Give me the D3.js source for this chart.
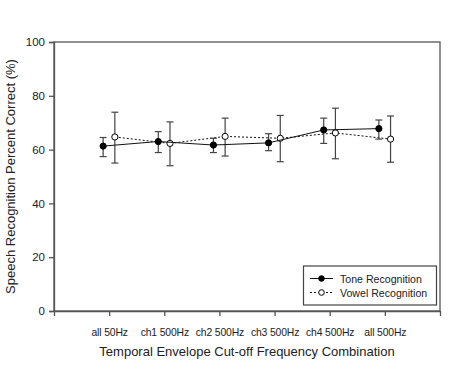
<!DOCTYPE html>
<html><head><meta charset="utf-8">
<script src="https://cdn.jsdelivr.net/npm/d3@7"></script>
<style>body{margin:0;background:#fff}svg{display:block}text{font-family:"Liberation Sans",Arial,sans-serif;fill:#222}</style>
</head><body><svg id="c" width="474" height="376"></svg>
<script>
const categories = ["all 50Hz","ch1 500Hz","ch2 500Hz","ch3 500Hz","ch4 500Hz","all 500Hz"];
const toneMean = [61.3, 63.0, 61.7, 62.5, 67.3, 67.8];
const toneHi   = [64.5, 66.7, 64.2, 65.9, 71.7, 71.0];
const toneLo   = [57.4, 58.9, 58.9, 59.6, 62.3, 63.9];
const vowelMean = [64.7, 62.3, 64.9, 64.2, 66.2, 63.9];
const vowelHi   = [73.9, 70.3, 71.7, 72.7, 75.4, 72.5];
const vowelLo   = [55.0, 54.0, 57.6, 55.5, 56.6, 55.3];
const yTicks = [0,20,40,60,80,100];
const seriesNames = ["Tone Recognition","Vowel Recognition"];

const svg = d3.select("#c");
const L=54, R=440, T=42, B=311;
const x = d3.scaleLinear().domain([0,7]).range([L,R]);
const y = d3.scaleLinear().domain([0,100]).range([B,T]);
const axisCol="#555";

svg.append("rect").attr("x",L).attr("y",T).attr("width",R-L).attr("height",B-T)
  .attr("fill","none").attr("stroke",axisCol).attr("stroke-width",1.3);

const gy = svg.append("g").attr("transform",`translate(${L},0)`)
  .call(d3.axisLeft(y).tickValues(yTicks).tickSize(5).tickPadding(4));
const gx = svg.append("g").attr("transform",`translate(0,${B})`)
  .call(d3.axisBottom(x).tickValues(d3.range(1,7)).tickSize(5).tickPadding(13).tickFormat(i=>categories[i-1]));
[gx,gy].forEach(g=>{g.select(".domain").attr("stroke",axisCol).attr("stroke-width",1.3);
  g.selectAll(".tick line").attr("stroke",axisCol).attr("stroke-width",1.3);
  g.selectAll("text").attr("fill","#222");});
gy.selectAll("text").style("font-size","11.5px");
gx.selectAll("text").style("font-size","10.4px").style("letter-spacing","-0.15px");

svg.append("text").attr("x",(L+R)/2).attr("y",356).attr("text-anchor","middle")
  .style("font-size","13px").text("Temporal Envelope Cut-off Frequency Combination");
svg.append("text").attr("transform",`translate(15,${(T+B)/2}) rotate(-90)`).attr("text-anchor","middle")
  .style("font-size","13px").text("Speech Recognition Percent Correct (%)");

function drawSeries(mean,hi,lo,off,filled,dash){
  const xs = i=>x(i+1)+off;
  svg.append("path").datum(mean).attr("fill","none").attr("stroke","#111").attr("stroke-width",1)
    .attr("stroke-dasharray",dash).attr("d",d3.line().x((d,i)=>xs(i)).y(d=>y(d)));
  const g=svg.append("g").attr("stroke","#444").attr("stroke-width",1.2);
  mean.forEach((m,i)=>{
    g.append("line").attr("x1",xs(i)).attr("x2",xs(i)).attr("y1",y(hi[i])).attr("y2",y(lo[i]));
    [hi[i],lo[i]].forEach(v=>g.append("line").attr("x1",xs(i)-3.5).attr("x2",xs(i)+3.5).attr("y1",y(v)).attr("y2",y(v)));
  });
  svg.append("g").selectAll("circle").data(mean).join("circle")
    .attr("cx",(d,i)=>xs(i)).attr("cy",d=>y(d)).attr("r",3.1)
    .attr("fill",filled?"#000":"#fff").attr("stroke","#000").attr("stroke-width",1);
}
drawSeries(vowelMean,vowelHi,vowelLo,5.7,false,"2,2");
drawSeries(toneMean,toneHi,toneLo,-6,true,null);

const lg=svg.append("g");
lg.append("rect").attr("x",303.5).attr("y",266).attr("width",133).attr("height",39)
  .attr("fill","#fff").attr("stroke","#444").attr("stroke-width",1.2);
seriesNames.forEach((n,k)=>{
  const yy=278.5+k*14;
  lg.append("line").attr("x1",310).attr("x2",333).attr("y1",yy).attr("y2",yy)
    .attr("stroke","#111").attr("stroke-dasharray",k?"2,2":null);
  lg.append("circle").attr("cx",321.5).attr("cy",yy).attr("r",2.8)
    .attr("fill",k?"#fff":"#000").attr("stroke","#000");
  lg.append("text").attr("x",340).attr("y",yy+4).style("font-size","10.6px").text(n);
});
</script></body></html>
